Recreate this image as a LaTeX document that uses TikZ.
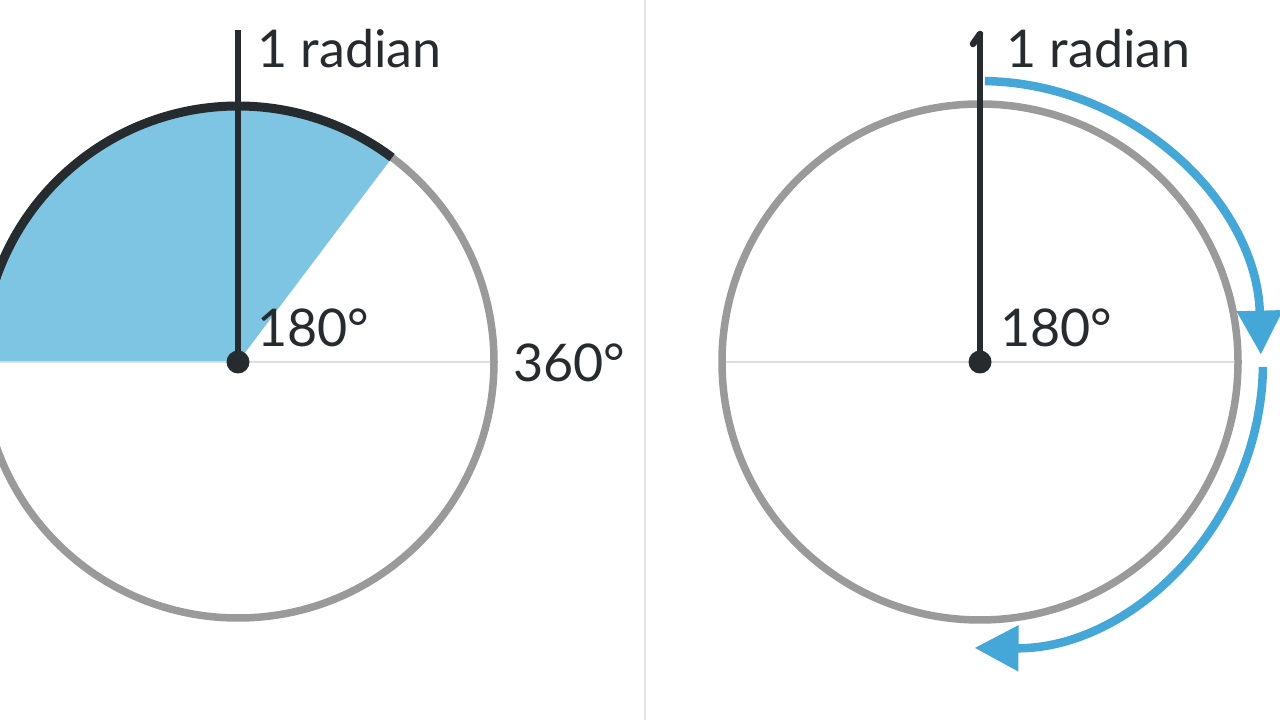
\documentclass[tikz,border=0pt]{standalone}
\usepackage{fontspec}
\setmainfont{Lato}
\usetikzlibrary{arrows.meta,calc}
\definecolor{wedgeblue}{HTML}{7EC4E3}
\definecolor{arrowblue}{HTML}{45A6D8}
\definecolor{darkline}{HTML}{262B30}
\definecolor{ringgray}{HTML}{9A9A9A}
\definecolor{axisgray}{HTML}{D8DEE2}
\definecolor{divgray}{HTML}{E4E4E4}
\tikzset{
  ring/.style={draw=ringgray,line width=7.5pt},
  axisline/.style={draw=axisgray,line width=1.6pt},
  radius line/.style={draw=darkline,line width=6.5pt},
  darkarc/.style={draw=darkline,line width=9pt},
  bluearrow/.style={draw=arrowblue,line width=8.5pt,-{Triangle[length=44pt,width=44pt]}},
  lbl/.style={font=\fontsize{52}{60}\selectfont,text=darkline,anchor=base west,inner sep=0pt},
}
\begin{document}
\begin{tikzpicture}[x=1pt,y=1pt]
\useasboundingbox (0,0) rectangle (1280,720);
\fill[white] (0,0) rectangle (1280,720);
% divider
\draw[draw=divgray,line width=2pt] (645,0) -- (645,720);
% ---------- left panel ----------
\coordinate (L) at (238,358);
\fill[wedgeblue] (L) -- ++(180:256) arc[start angle=180,end angle=53,radius=256] -- cycle;
\draw[axisline] (0,358) -- (L) -- (495,358);
\draw[ring] (L) circle[radius=256];
\draw[darkarc] ($(L)+(180:256)$) arc[start angle=180,end angle=53,radius=256];
\coordinate (Ltop) at (238,690);
\draw[radius line] (L) -- (Ltop);
\fill[darkline] (L) circle[radius=11.5];
\node[lbl] (Lrad) at (257,652) {1 radian};
\node[lbl] (L180) at (257,373) {180°};
\node[lbl] (L360) at (513,338) {360°};
% ---------- right panel ----------
\coordinate (R) at (980,358);
\draw[axisline] (722,358) -- (1238,358);
\draw[ring] (R) circle[radius=258];
\coordinate (Rtop) at (980,688);
\draw[radius line] (R) -- (Rtop);
\draw[radius line,line cap=round] (980,686) -- (973,676);
\fill[darkline] (R) circle[radius=11.5];
\draw[bluearrow] ($(R)+(89:281)$) arc[start angle=89,end angle=1.5,radius=281];
\draw[bluearrow] ($(R)+(-1:283)$) arc[start angle=-1,end angle=-90.5,radius=286];
\node[lbl] (Rrad) at (1006,652) {1 radian};
\node[lbl] (R180) at (1000,373) {180°};
\end{tikzpicture}
\end{document}
